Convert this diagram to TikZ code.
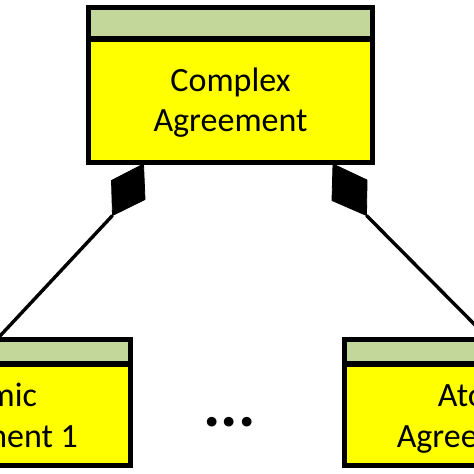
\documentclass[tikz,border=0pt]{standalone}
\usepackage{fontspec}
\setmainfont{Carlito}
\usetikzlibrary{backgrounds}
\definecolor{bandgreen}{RGB}{196,215,155}
\definecolor{boxyellow}{RGB}{255,255,0}
\begin{document}
\begin{tikzpicture}[x=1pt,y=-1pt,
  box/.style={rectangle, fill=boxyellow, draw=black, line width=5pt, minimum width=284pt, inner sep=0pt,
    path picture={\fill[bandgreen] (path picture bounding box.north west) rectangle ([yshift=-#1pt]path picture bounding box.north east);
      \draw[black,line width=6pt] ([yshift=-#1pt]path picture bounding box.north west) -- ([yshift=-#1pt]path picture bounding box.north east);}},
  boxtext/.style={align=center, font=\fontsize{34}{#1}\selectfont, inner sep=0pt},
  link/.style={line width=3.4pt, draw=black},
  diam/.style={fill=black, draw=black, line width=0.8pt, line join=round}]
\clip (0,0) rectangle (474,474);
\useasboundingbox (0,0) rectangle (474,474);
% boxes
\node[box=31, minimum height=155pt] (parent) at (230.5,85) {};
\node[boxtext=40] (parenttext) at (230.5,103) {Complex\\Agreement};
\node[box=24.5, minimum height=126pt] (left) at (-11.5,402) {};
\node[boxtext=41] (lefttext) at (-11.5,418.5) {Atomic\\Agreement 1};
\node[box=24.5, minimum height=126pt] (right) at (486.5,402) {};
\node[boxtext=41] (righttext) at (486.5,418.5) {Atomic\\Agreement n};
\node[font=\fontsize{65}{65}\selectfont\bfseries, inner sep=0pt, anchor=base] (dots) at (229.5,426.5) {...};
% connectors with composition diamonds
\coordinate (ld) at (112.5,215.5);
\coordinate (rd) at (366.5,215.5);
\begin{scope}[on background layer]
\draw[link] (ld) -- ([xshift=11pt]left.north);
\draw[link] (rd) -- (right.north);
\fill[diam] (143.5,164) -- (111.5,180.5) -- (ld) -- (145,199.5) -- cycle;
\fill[diam] (333,164) -- (367,180) -- (rd) -- (332,200.5) -- cycle;
\end{scope}
\end{tikzpicture}
\end{document}
